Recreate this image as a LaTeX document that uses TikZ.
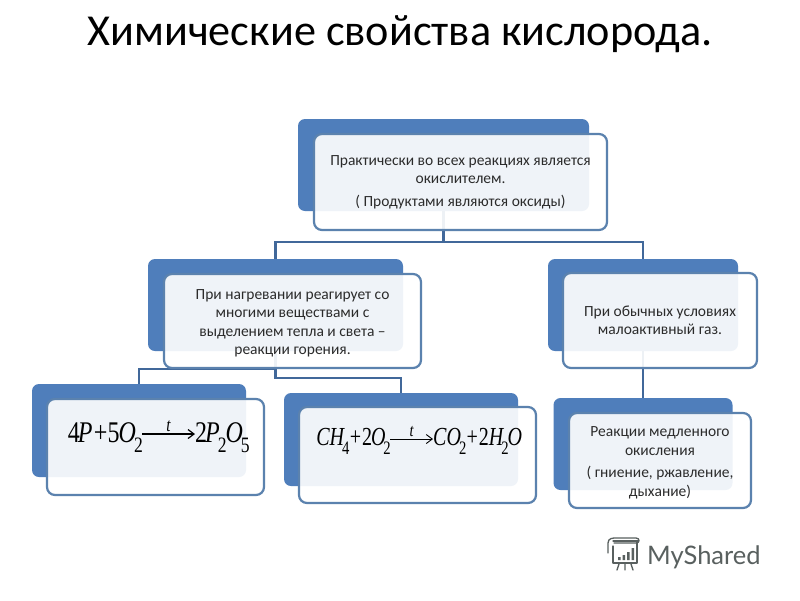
\documentclass[tikz,border=0pt]{standalone}
\usepackage{fontspec}
\setmainfont{Carlito}
\newfontfamily\formfont[FakeStretch=0.8]{Liberation Serif}
\newfontfamily\formfontb[FakeStretch=0.77]{Liberation Serif}
\newfontfamily\logofont{Lato}
\usetikzlibrary{arrows.meta}
\definecolor{backblue}{HTML}{4F7EBB}
\definecolor{frontline}{HTML}{5B82AE}
\definecolor{linkblue}{HTML}{41689A}
\definecolor{textgray}{HTML}{2B2B2B}
\definecolor{logogray}{HTML}{59605F}
\newcommand{\lsub}[1]{\kern-2pt\raisebox{-10pt}{\fontsize{22}{22}\selectfont #1}\kern-1pt}
\newcommand{\ssub}[1]{\kern-2pt\raisebox{-9pt}{\fontsize{19}{19}\selectfont #1}\kern-1pt}
\newcommand{\topstrut}{\rule{0pt}{15pt}}
\tikzset{
  x=1pt,y=-1pt,
  backbox/.style={fill=backblue,rounded corners=7pt,inner sep=0pt,anchor=center},
  frontbox/.style={draw=frontline,line width=2.2pt,fill=white,fill opacity=.91,text opacity=1,
    rounded corners=8pt,inner sep=0pt,anchor=center,align=center,text=textgray,
    font=\fontsize{15.5}{18.5}\selectfont},
  link/.style={draw=linkblue,line width=2.2pt},
  formula/.style={inner sep=0pt,text=black,font=\formfont\itshape},
  formarrow/.style={draw=black,line width=1.2pt,-{Straight Barb[length=6pt,width=9pt]}},
  logoline/.style={draw=logogray,line width=1.3pt,line join=round,line cap=round},
}
\begin{document}
\begin{tikzpicture}
\useasboundingbox (0,0) rectangle (800,600);
\fill[white] (0,0) rectangle (800,600);

\node[inner sep=0pt,text=black,font=\fontsize{44.2}{44.2}\selectfont] (title) at (400,34) {Химические свойства кислорода.};

% back panels
\node[backbox,minimum width=291pt,minimum height=92pt] (topb) at (443.5,165) {};
\node[backbox,minimum width=255pt,minimum height=92pt] (lmb) at (275.5,305) {};
\node[backbox,minimum width=190pt,minimum height=92pt] (rmb) at (643,305) {};
\node[backbox,minimum width=214pt,minimum height=93pt] (aab) at (139,430.5) {};
\node[backbox,minimum width=234pt,minimum height=93pt] (bbb) at (401,439.5) {};
\node[backbox,minimum width=179pt,minimum height=92pt] (ccb) at (643,444) {};

% connectors
\draw[link] (topb.south) -- ++(0,31) -| (lmb.north);
\draw[link] (topb.south) -- ++(0,31) -| (rmb.north);
\draw[link] (lmb.south) -- ++(0,18) -| (aab.north);
\draw[link] (lmb.south) -- ++(0,27) -| (bbb.north);
\draw[link] (rmb.south) -- (ccb.north);

% front panels
\node[frontbox,minimum width=293pt,minimum height=96pt] (top) at (460.5,182) {Практически во всех реакциях является\\окислителем.\\[4pt]( Продуктами являются оксиды)};
\node[frontbox,minimum width=257pt,minimum height=94pt] (lm) at (292.5,321) {\topstrut При нагревании реагирует со\\многими веществами с\\выделением тепла и света --\\реакции горения.};
\node[frontbox,minimum width=194pt,minimum height=95pt] (rm) at (660,320.5) {При обычных условиях\\малоактивный газ.};
\node[frontbox,minimum width=217pt,minimum height=96pt] (aa) at (155.5,447) {};
\node[frontbox,minimum width=237pt,minimum height=96pt] (bb) at (417.5,455) {};
\node[frontbox,minimum width=182pt,minimum height=95pt] (cc) at (660,460.5) {\topstrut Реакции медленного\\окисления\\[4pt]( гниение, ржавление,\\дыхание)};

% formula 1
\node[formula,anchor=base east,font=\formfont\itshape\fontsize{30}{30}\selectfont] (fal) at (142,442) {\upshape 4\kern-2pt\itshape P+\kern-1pt\upshape 5\kern-1pt\itshape O\lsub{\upshape 2}};
\node[formula,anchor=base west,font=\formfont\itshape\fontsize{30}{30}\selectfont] (far) at (195,442) {\upshape 2\kern-2pt\itshape P\lsub{\upshape 2}O\lsub{\upshape 5}};
\draw[formarrow] ([yshift=8pt]fal.base east) -- node[formula,above=2pt,font=\formfont\itshape\fontsize{19}{19}\selectfont] (fat) {t} ([yshift=8pt]far.base west);

% formula 2
\node[formula,anchor=base east,font=\formfontb\itshape\fontsize{26}{26}\selectfont] (fbl) at (390,445) {CH\ssub{\upshape 4}+\upshape 2\kern-1pt\itshape O\ssub{\upshape 2}};
\node[formula,anchor=base west,font=\formfontb\itshape\fontsize{26}{26}\selectfont] (fbr) at (433,445) {CO\ssub{\upshape 2}+\upshape 2\itshape H\ssub{\upshape 2}O};
\draw[formarrow,line width=.9pt] ([yshift=6pt]fbl.base east) -- node[formula,above=2pt,font=\formfont\itshape\fontsize{18}{18}\selectfont] (fbt) {t} ([yshift=6pt]fbr.base west);

% logo
\draw[logoline] (613,541) -- (638,541) (637,541) -- (637,563) -- (613,563) -- (613,546);
\draw[logoline] (608,553) -- (608,543) .. controls (608,538) and (613,538) .. (616,538) -- (636,538) .. controls (640,538) and (640,543) .. (636,543) -- (614,543);
\draw[logoline] (619,564) -- (617,570) (625,564) -- (625,570) (631,564) -- (633,570);
\fill[logogray] (618,557) rectangle (620.5,560) (622.5,555) rectangle (625,560) (627,552) rectangle (629.5,560) (631.5,548) rectangle (634,560);
\node[inner sep=0pt,anchor=base west,text=logogray,font=\logofont\fontsize{25.5}{25.5}\selectfont] (logo) at (647,564) {MyShared};
\end{tikzpicture}
\end{document}
